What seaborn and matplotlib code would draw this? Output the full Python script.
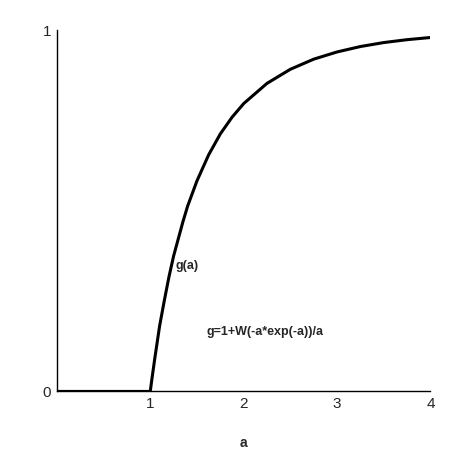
import matplotlib
matplotlib.use("Agg")
import matplotlib.pyplot as plt
import seaborn as sns
import pandas as pd

# values
a_vals = [0.0, 0.5, 1.0, 1.02, 1.05, 1.1, 1.15, 1.2, 1.25, 1.35, 1.4, 1.5, 1.625,
          1.75, 1.875, 2.0, 2.25, 2.5, 2.75, 3.0, 3.25, 3.5, 3.75, 4.0]
g_vals = [0.0, 0.0, 0.0, 0.039, 0.094, 0.181, 0.251, 0.317, 0.375, 0.470, 0.513, 0.583, 0.655,
          0.713, 0.759, 0.797, 0.853, 0.892, 0.920, 0.940, 0.955, 0.966, 0.974, 0.980]
x_ticks = [1, 2, 3, 4]
y_ticks = [0, 1]

df = pd.DataFrame({"a": a_vals, "g": g_vals})

sns.set_style("white")
plt.rcParams["font.family"] = ["Liberation Sans", "DejaVu Sans"]
fig = plt.figure(figsize=(4.74, 4.66), dpi=100)
ax = fig.add_axes([0.12, 0.16, 0.788, 0.775])
sns.lineplot(data=df, x="a", y="g", ax=ax, color="black", linewidth=2.2)

ax.set_xlim(0, 4)
ax.set_ylim(0, 1)
ax.set_xticks(x_ticks)
ax.set_yticks(y_ticks)
ax.tick_params(axis="both", direction="in", length=4, width=1, labelsize=11, pad=4)
for s in ["top", "right"]:
    ax.spines[s].set_visible(False)
for s in ["left", "bottom"]:
    ax.spines[s].set_color("black")
    ax.spines[s].set_linewidth(1)
ax.set_xlabel("a", fontweight="bold", fontsize=10, labelpad=18)
ax.set_ylabel("")
ax.text(1.27, 0.34, "g(a)", fontweight="bold", fontsize=9)
ax.text(1.6, 0.155, "g=1+W(-a*exp(-a))/a", fontweight="bold", fontsize=9)

fig.savefig("out.png", dpi=100)
